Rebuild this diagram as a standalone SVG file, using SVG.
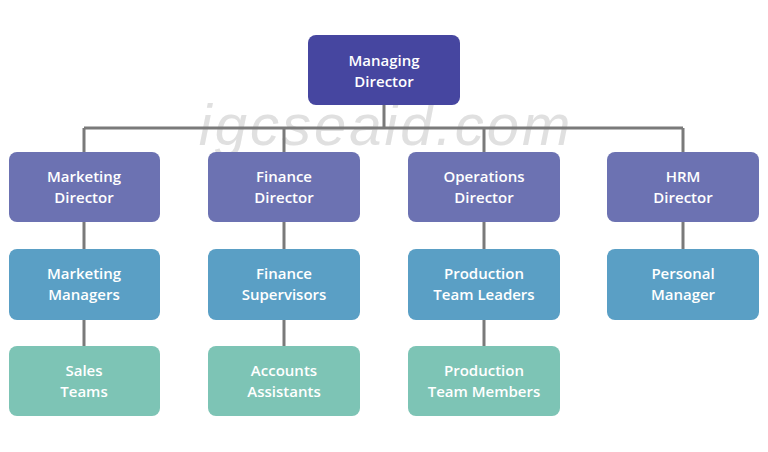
<svg xmlns="http://www.w3.org/2000/svg" width="768" height="452" viewBox="0 0 768 452">
<style>
.t{font-family:"Open Sans","Liberation Sans",Arial,sans-serif;font-size:15px;font-weight:600;fill:#fff;text-anchor:middle}
.l{stroke:#7a7a7a;stroke-width:3;fill:none}
.top{fill:#4646a0}.d{fill:#6c72b2}.m{fill:#5a9fc5}.s{fill:#7dc4b5}
</style>
<rect width="768" height="452" fill="#fff"/>
<text x="386" y="145" font-family="Liberation Sans,Arial,sans-serif" font-size="58" font-style="italic" fill="#e0e0e0" text-anchor="middle" letter-spacing="3">igcseaid.com</text>
<g id="connectors">
<path class="l" d="M384 105V128M84 128H683M84 128V152M284 128V152M484 128V152M683 128V152M84 222V249M284 222V249M484 222V249M683 222V249M84 320V346M284 320V346M484 320V346"/>
</g>
<g id="md"><rect class="top" x="308" y="35" width="152" height="70" rx="8"/><text class="t" x="384" y="66">Managing</text><text class="t" x="384" y="87">Director</text></g>
<g id="mkd"><rect class="d" x="9" y="152" width="151" height="70" rx="8"/><text class="t" x="84" y="182">Marketing</text><text class="t" x="84" y="203">Director</text></g>
<g id="fd"><rect class="d" x="208" y="152" width="152" height="70" rx="8"/><text class="t" x="284" y="182">Finance</text><text class="t" x="284" y="203">Director</text></g>
<g id="od"><rect class="d" x="408" y="152" width="152" height="70" rx="8"/><text class="t" x="484" y="182">Operations</text><text class="t" x="484" y="203">Director</text></g>
<g id="hd"><rect class="d" x="607" y="152" width="152" height="70" rx="8"/><text class="t" x="683" y="182">HRM</text><text class="t" x="683" y="203">Director</text></g>
<g id="mm"><rect class="m" x="9" y="249" width="151" height="71" rx="8"/><text class="t" x="84" y="279">Marketing</text><text class="t" x="84" y="300">Managers</text></g>
<g id="fs"><rect class="m" x="208" y="249" width="152" height="71" rx="8"/><text class="t" x="284" y="279">Finance</text><text class="t" x="284" y="300">Supervisors</text></g>
<g id="ptl"><rect class="m" x="408" y="249" width="152" height="71" rx="8"/><text class="t" x="484" y="279">Production</text><text class="t" x="484" y="300">Team Leaders</text></g>
<g id="pm"><rect class="m" x="607" y="249" width="152" height="71" rx="8"/><text class="t" x="683" y="279">Personal</text><text class="t" x="683" y="300">Manager</text></g>
<g id="st"><rect class="s" x="9" y="346" width="151" height="70" rx="8"/><text class="t" x="84" y="376">Sales</text><text class="t" x="84" y="397">Teams</text></g>
<g id="aa"><rect class="s" x="208" y="346" width="152" height="70" rx="8"/><text class="t" x="284" y="376">Accounts</text><text class="t" x="284" y="397">Assistants</text></g>
<g id="ptm"><rect class="s" x="408" y="346" width="152" height="70" rx="8"/><text class="t" x="484" y="376">Production</text><text class="t" x="484" y="397">Team Members</text></g>
</svg>
